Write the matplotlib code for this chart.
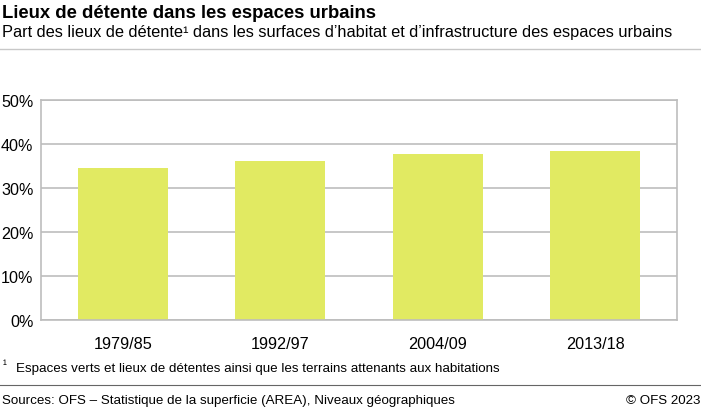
import numpy as np
import matplotlib
matplotlib.use('Agg')
import matplotlib.pyplot as plt

plt.rcParams['font.family'] = ['Liberation Sans', 'DejaVu Sans']

periods = ['1979/85', '1992/97', '2004/09', '2013/18']
shares = [34.5, 36.2, 37.8, 38.3]    # part en %
yticks = [0, 10, 20, 30, 40, 50]

bar_color = '#e1ea62'
grid_color = '#bdbdbd'

fig = plt.figure(figsize=(7.01, 4.10), dpi=100)
W, H = 701, 410

ax = fig.add_axes([41 / W, 1 - 321 / H, 636 / W, 220 / H])
x = np.arange(len(periods))
ax.bar(x, shares, width=0.572, color=bar_color, zorder=2)
ax.set_xlim(-0.52, 3.52)
ax.set_ylim(0, 50)
ax.set_yticks(yticks)
ax.set_yticklabels([f'{v}%' for v in yticks], fontsize=11.6)
ax.set_xticks(x)
ax.set_xticklabels(periods, fontsize=11.7)
ax.tick_params(axis='y', length=0, pad=5.5)
ax.tick_params(axis='x', length=0, pad=11.5)
ax.grid(axis='y', color=grid_color, linewidth=1.2, zorder=0)
for s in ax.spines.values():
    s.set_color(grid_color)
    s.set_linewidth(1.2)

# titres
fig.text(2 / W, 1 - 18 / H, 'Lieux de détente dans les espaces urbains',
         fontsize=13.35, fontweight='bold', va='baseline', ha='left')
fig.text(2 / W, 1 - 37 / H,
         'Part des lieux de détente¹ dans les surfaces d’habitat et d’infrastructure des espaces urbains',
         fontsize=11.77, va='baseline', ha='left')
fig.add_artist(plt.Line2D([0, 1], [1 - 50 / H, 1 - 50 / H], color='#c8c8c8', linewidth=1))

# note et source
fig.text(3 / W, 1 - 369 / H, '¹', fontsize=8.5, va='baseline', ha='left')
fig.text(16 / W, 1 - 372 / H,
         'Espaces verts et lieux de détentes ainsi que les terrains attenants aux habitations',
         fontsize=9.67, va='baseline', ha='left')
fig.add_artist(plt.Line2D([0, 1], [1 - 386 / H, 1 - 386 / H], color='#666666', linewidth=0.8))
fig.text(2 / W, 1 - 404 / H, 'Sources: OFS – Statistique de la superficie (AREA), Niveaux géographiques',
         fontsize=9.65, va='baseline', ha='left')
fig.text(700 / W, 1 - 404 / H, '© OFS 2023', fontsize=9.65, va='baseline', ha='right')

fig.savefig('out.png', dpi=100)
